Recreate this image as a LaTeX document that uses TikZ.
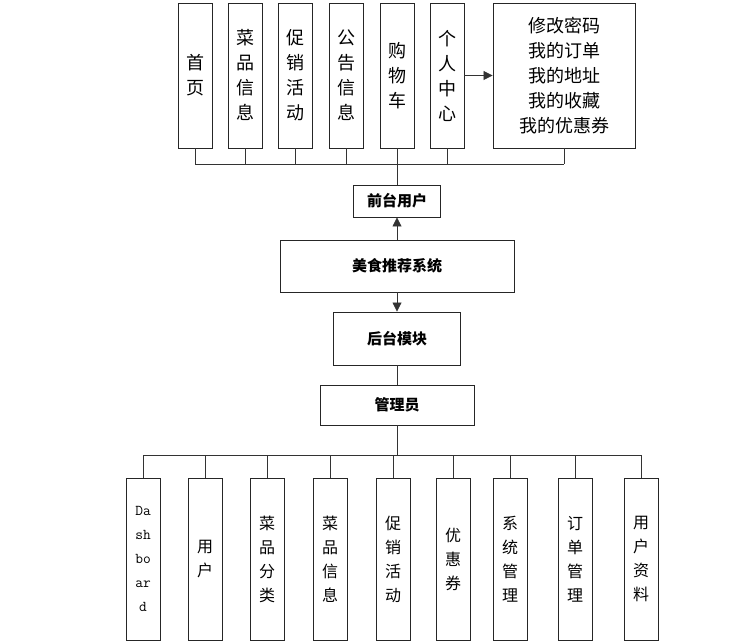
\documentclass[tikz,border=0pt]{standalone}
\usepackage{fontspec}
\setmainfont{Noto Sans CJK SC}
\usetikzlibrary{arrows.meta}
\begin{document}
\begin{tikzpicture}[x=1pt,y=-1pt,
  box/.style={draw=black!85,line width=0.9pt,fill=white,inner sep=0pt,align=center},
  topv/.style={box,minimum width=34pt,minimum height=145pt,font=\fontsize{18}{25}\selectfont},
  botv/.style={box,minimum width=34pt,minimum height=162pt,font=\fontsize{16}{24}\selectfont},
  mid/.style={box,font=\fontsize{15}{18}\selectfont\bfseries},
  ln/.style={draw=black!80,line width=0.8pt},
  arr/.style={ln,-{Triangle[length=9pt,width=9pt]}}]
\useasboundingbox (0,0) rectangle (752,644);
% top boxes
\node[topv] (t1) at (195,75.5) {首\\页};
\node[topv] (t2) at (245,75.5) {菜\\品\\信\\息};
\node[topv] (t3) at (295,75.5) {促\\销\\活\\动};
\node[topv] (t4) at (346,75.5) {公\\告\\信\\息};
\node[topv] (t5) at (397,75.5) {购\\物\\车};
\node[topv] (t6) at (447,75.5) {个\\人\\中\\心};
\node[box,minimum width=142pt,minimum height=145pt,font=\fontsize{18}{25}\selectfont] (t7) at (564,75.5) {修改密码\\我的订单\\我的地址\\我的收藏\\我的优惠券};
\draw[arr] (t6.east) -- (t7.west);
\coordinate (tb) at (397,164);
\foreach \n in {t1,t2,t3,t4,t5,t6,t7}{\draw[ln] (\n.south) -- (\n.south |- tb);}
\draw[ln] (t1.south |- tb) -- (t7.south |- tb);
% middle
\node[mid,minimum width=87pt,minimum height=32pt] (fu) at (397,201) {前台用户};
\node[mid,minimum width=234pt,minimum height=52pt] (sys) at (397,266) {美食推荐系统};
\node[mid,minimum width=127pt,minimum height=53pt] (ht) at (397,338.5) {后台模块};
\node[mid,minimum width=154pt,minimum height=40pt] (gl) at (397,405) {管理员};
\draw[ln] (fu.north) -- (tb);
\draw[arr] (sys.north) -- (fu.south);
\draw[arr] (sys.south) -- (ht.north);
\draw[ln] (ht.south) -- (gl.north);
% bottom
\node[botv,font=\fontsize{15}{24}\ttfamily] (b1) at (143,559) {Da\\sh\\bo\\ar\\d};
\node[botv] (b2) at (205,559) {用\\户};
\node[botv] (b3) at (267,559) {菜\\品\\分\\类};
\node[botv] (b4) at (330,559) {菜\\品\\信\\息};
\node[botv] (b5) at (393,559) {促\\销\\活\\动};
\node[botv] (b6) at (453,559) {优\\惠\\券};
\node[botv] (b7) at (510,559) {系\\统\\管\\理};
\node[botv] (b8) at (575,559) {订\\单\\管\\理};
\node[botv] (b9) at (641,559) {用\\户\\资\\料};
\coordinate (bb) at (397,455);
\draw[ln] (gl.south) -- (bb);
\foreach \n in {b1,b2,b3,b4,b5,b6,b7,b8,b9}{\draw[ln] (\n.north) -- (\n.north |- bb);}
\draw[ln] (b1.north |- bb) -- (b9.north |- bb);
\end{tikzpicture}
\end{document}
